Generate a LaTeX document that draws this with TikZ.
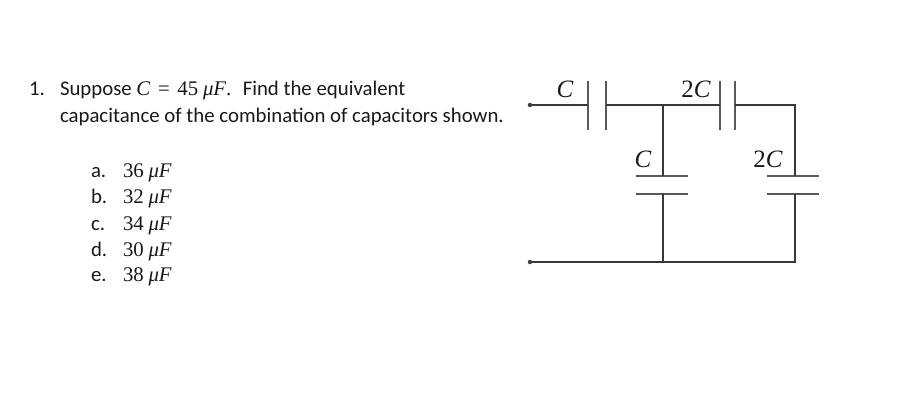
\documentclass[tikz,border=0pt]{standalone}
\usepackage{fontspec}
\setmainfont{Carlito}
\newfontfamily\mathf{Liberation Serif}
\newcommand{\mi}[1]{{\mathf\itshape #1}}
\newcommand{\mr}[1]{{\mathf #1}}
\newcommand{\uF}{\mi{μF}}
\tikzset{
  x=1pt,y=-1pt,
  txt/.style={anchor=base west,inner sep=0pt,outer sep=0pt,text=black!90,font=\fontsize{20.8}{24}\selectfont},
  lab/.style={anchor=base,inner sep=0pt,outer sep=0pt,text=black!90,font=\mathf\fontsize{25}{27}\selectfont},
  wire/.style={draw=black!78,line width=2.2pt},
  plate/.style={draw=black!65,line width=2.5pt},
  term/.style={circle,fill=black!75,inner sep=0pt,minimum size=4.5pt},
}
\begin{document}
\begin{tikzpicture}
\useasboundingbox (0,0) rectangle (906,418);
\node[txt] (n1) at (29,95) {1.};
\node[txt] (l1) at (60,95) {Suppose \mi{C}\hspace{3pt} \mr{=}\hspace{3pt} \mr{45} \uF\mr{.}\hspace{2pt}\ \ Find the equivalent};
\node[txt] (l2) at (60,122) {capacitance of the combination of capacitors shown.};
\node[txt] (ma) at (91,177) {a.};
\node[txt] (va) at (123,177) {\mr{36} \uF};
\node[txt] (mb) at (91,203) {b.};
\node[txt] (vb) at (123,203) {\mr{32} \uF};
\node[txt] (mc) at (91,230) {c.};
\node[txt] (vc) at (123,230) {\mr{34} \uF};
\node[txt] (md) at (91,256) {d.};
\node[txt] (vd) at (123,256) {\mr{30} \uF};
\node[txt] (me) at (91,281) {e.};
\node[txt] (ve) at (123,281) {\mr{38} \uF};
% terminals and junctions
\node[term] (tt) at (530,105) {};
\node[term] (tb) at (530,262) {};
\coordinate (j1) at (663,105);
\coordinate (j2) at (663,262);
\coordinate (cr) at (795,105);
\coordinate (br) at (795,262);
% series capacitor C
\coordinate (c1a) at (588,105);
\coordinate (c1b) at (606,105);
\draw[plate] (588,81) -- (588,130);
\draw[plate] (606,81) -- (606,130);
% series capacitor 2C
\coordinate (c2a) at (720,105);
\coordinate (c2b) at (735,105);
\draw[plate] (720,81) -- (720,130);
\draw[plate] (735,81) -- (735,130);
% shunt capacitor C
\coordinate (c3a) at (663,176);
\coordinate (c3b) at (663,194);
\draw[plate] (636,176) -- (688,176);
\draw[plate] (636,194) -- (688,194);
% shunt capacitor 2C
\coordinate (c4a) at (795,176);
\coordinate (c4b) at (795,194);
\draw[plate] (767,176) -- (819,176);
\draw[plate] (767,194) -- (819,194);
% wires
\draw[wire] (tt) -- (c1a);
\draw[wire] (c1b) -- (j1) -- (c2a);
\draw[wire,line join=miter] (c2b) -- (cr) -- (c4a);
\draw[wire] (j1) -- (c3a);
\draw[wire] (c3b) -- (j2);
\draw[wire,line join=miter] (c4b) -- (br) -- (j2) -- (tb);
% labels
\node[lab] (lc1) at (565,97) {\mi{C}};
\node[lab] (lc2) at (696,97) {\mr{2}\mi{C}};
\node[lab] (lc3) at (643,167) {\mi{C}};
\node[lab] (lc4) at (768,167) {\mr{2}\mi{C}};
\end{tikzpicture}
\end{document}
